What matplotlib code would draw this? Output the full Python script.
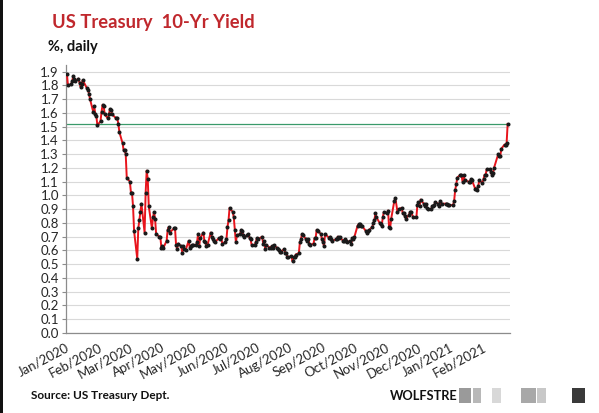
import numpy as np
import pandas as pd
import matplotlib
matplotlib.use("Agg")
import matplotlib.pyplot as plt
from matplotlib.patches import Rectangle

# daily 10-yr yields (%), one list per month, bond-market trading days
y2020_01 = [1.88, 1.80, 1.81, 1.83, 1.87, 1.85, 1.83, 1.85, 1.82, 1.79, 1.81,
            1.84, 1.78, 1.77, 1.74, 1.70, 1.61, 1.65, 1.59, 1.58, 1.51]
y2020_02 = [1.54, 1.61, 1.66, 1.65, 1.59, 1.56, 1.59, 1.63, 1.62, 1.59, 1.56,
            1.56, 1.52, 1.46, 1.38, 1.33, 1.33, 1.30, 1.13]
y2020_03 = [1.10, 1.02, 1.02, 0.92, 0.74, 0.54, 0.76, 0.82, 0.88, 0.94, 0.73,
            1.02, 1.18, 1.12, 0.92, 0.76, 0.84, 0.88, 0.83, 0.72, 0.70, 0.70]
y2020_04 = [0.62, 0.63, 0.62, 0.67, 0.75, 0.77, 0.73, 0.76, 0.76, 0.64, 0.61,
            0.65, 0.63, 0.58, 0.63, 0.61, 0.60, 0.67, 0.62, 0.63, 0.64]
y2020_05 = [0.64, 0.64, 0.66, 0.72, 0.63, 0.69, 0.73, 0.67, 0.66, 0.63, 0.64,
            0.73, 0.70, 0.68, 0.67, 0.66, 0.69, 0.68, 0.70, 0.65]
y2020_06 = [0.66, 0.68, 0.77, 0.82, 0.91, 0.88, 0.84, 0.75, 0.66, 0.71, 0.72,
            0.75, 0.74, 0.71, 0.70, 0.71, 0.72, 0.69, 0.68, 0.64, 0.64, 0.66]
y2020_07 = [0.69, 0.68, 0.70, 0.65, 0.67, 0.61, 0.64, 0.62, 0.62, 0.63, 0.62,
            0.64, 0.62, 0.61, 0.60, 0.59, 0.59, 0.61, 0.58, 0.58, 0.55, 0.55]
y2020_08 = [0.56, 0.52, 0.55, 0.55, 0.57, 0.58, 0.66, 0.68, 0.72, 0.71, 0.68,
            0.67, 0.68, 0.65, 0.64, 0.65, 0.69, 0.69, 0.75, 0.74, 0.72]
y2020_09 = [0.68, 0.66, 0.63, 0.72, 0.69, 0.70, 0.68, 0.67, 0.68, 0.68, 0.70,
            0.69, 0.70, 0.67, 0.67, 0.68, 0.67, 0.66, 0.67, 0.65, 0.69]
y2020_10 = [0.68, 0.70, 0.78, 0.79, 0.79, 0.78, 0.78, 0.74, 0.73, 0.74, 0.75,
            0.77, 0.80, 0.82, 0.87, 0.84, 0.80, 0.79, 0.78, 0.84, 0.88]
y2020_11 = [0.87, 0.89, 0.77, 0.76, 0.83, 0.96, 0.98, 0.88, 0.90, 0.91, 0.87,
            0.87, 0.85, 0.83, 0.86, 0.88, 0.88, 0.84, 0.84]
y2020_12 = [0.93, 0.95, 0.92, 0.97, 0.94, 0.92, 0.94, 0.91, 0.90, 0.90, 0.92,
            0.92, 0.93, 0.95, 0.94, 0.92, 0.96, 0.94, 0.94, 0.94, 0.93, 0.93]
y2021_01 = [0.93, 0.96, 1.04, 1.08, 1.13, 1.15, 1.15, 1.10, 1.15, 1.11, 1.10,
            1.10, 1.12, 1.11, 1.05, 1.05, 1.04, 1.07, 1.11]
y2021_02 = [1.09, 1.12, 1.15, 1.15, 1.19, 1.19, 1.17, 1.15, 1.16, 1.20, 1.30,
            1.29, 1.29, 1.34, 1.37, 1.37, 1.38, 1.52]

closed = ["2020-01-20", "2020-02-17", "2020-04-10", "2020-05-25", "2020-07-03",
          "2020-09-07", "2020-10-12", "2020-11-11", "2020-11-26", "2020-12-25",
          "2021-01-01", "2021-01-18", "2021-02-15"]
ref_level = 1.52
month_labels = ["Jan/2020", "Feb/2020", "Mar/2020", "Apr/2020", "May/2020",
                "Jun/2020", "Jul/2020", "Aug/2020", "Sep/2020", "Oct/2020",
                "Nov/2020", "Dec/2020", "Jan/2021", "Feb/2021"]

yields = (y2020_01 + y2020_02 + y2020_03 + y2020_04 + y2020_05 + y2020_06 +
          y2020_07 + y2020_08 + y2020_09 + y2020_10 + y2020_11 + y2020_12 +
          y2021_01 + y2021_02)
dates = pd.bdate_range("2020-01-02", "2021-02-25", freq="C", holidays=closed)
assert len(dates) == len(yields)

plt.rcParams['font.family'] = ['Lato', 'DejaVu Sans']

fig = plt.figure(figsize=(5.99, 4.13), dpi=100)
ax = fig.add_axes([0.110, 0.194, 0.741, 0.649])

ax.axhline(ref_level, color="#3a9a6a", lw=0.9, zorder=2)
ax.plot(dates, yields, color="#e8141c", lw=1.4, zorder=3)
ax.plot(dates, yields, ls="none", marker="o", ms=1.9, color="#1a1a1a", zorder=4)

ax.set_ylim(0, 1.95)
ax.set_yticks(np.arange(0, 1.91, 0.1))
ax.set_yticklabels([f"{v:.1f}" for v in np.arange(0, 1.91, 0.1)])
ax.set_xlim(pd.Timestamp("2020-01-01"), pd.Timestamp("2021-02-27"))
ticks = pd.date_range("2020-01-01", "2021-02-01", freq="MS")
ax.set_xticks(ticks)
ax.set_xticklabels(month_labels, rotation=28, ha="right", rotation_mode="anchor")

ax.grid(axis="y", color="#d9d9d9", lw=0.8)
ax.set_axisbelow(True)
for s in ["top", "right"]:
    ax.spines[s].set_visible(False)
for s in ["left", "bottom"]:
    ax.spines[s].set_color("#8c8c8c")
    ax.spines[s].set_linewidth(0.9)
ax.tick_params(axis="y", length=3, color="#8c8c8c", labelsize=9.5, pad=2, labelcolor="#262626")
ax.tick_params(axis="x", length=0, labelsize=9.5, pad=6, labelcolor="#262626")

fig.text(0.087, 0.945, "US Treasury  10-Yr Yield", color="#c0282d", fontsize=13.2,
         fontweight="bold", va="center")
fig.text(0.080, 0.885, "%, daily", color="#111111", fontsize=10.5, fontweight="bold", va="center")
fig.text(0.052, 0.042, "Source: US Treasury Dept.", color="#111111", fontsize=8.5,
         fontweight="bold", va="center")
fig.text(0.651, 0.042, "WOLFSTRE", color="#111111", fontsize=9.2, fontweight="bold", va="center")

# blurred watermark blocks
for x0, w, c in [(0.767, 0.020, "#9a9a9a"), (0.789, 0.014, "#b8b8b8"),
                 (0.822, 0.015, "#d8d8d8"), (0.870, 0.025, "#a8a8a8"),
                 (0.897, 0.014, "#c8c8c8"), (0.955, 0.022, "#3a3a3a")]:
    fig.add_artist(Rectangle((x0, 0.025), w, 0.035, transform=fig.transFigure,
                             color=c, lw=0))

fig.add_artist(Rectangle((0, 0), 0.005, 1, transform=fig.transFigure, color="#111111", lw=0))

fig.savefig("out.png", dpi=100)
